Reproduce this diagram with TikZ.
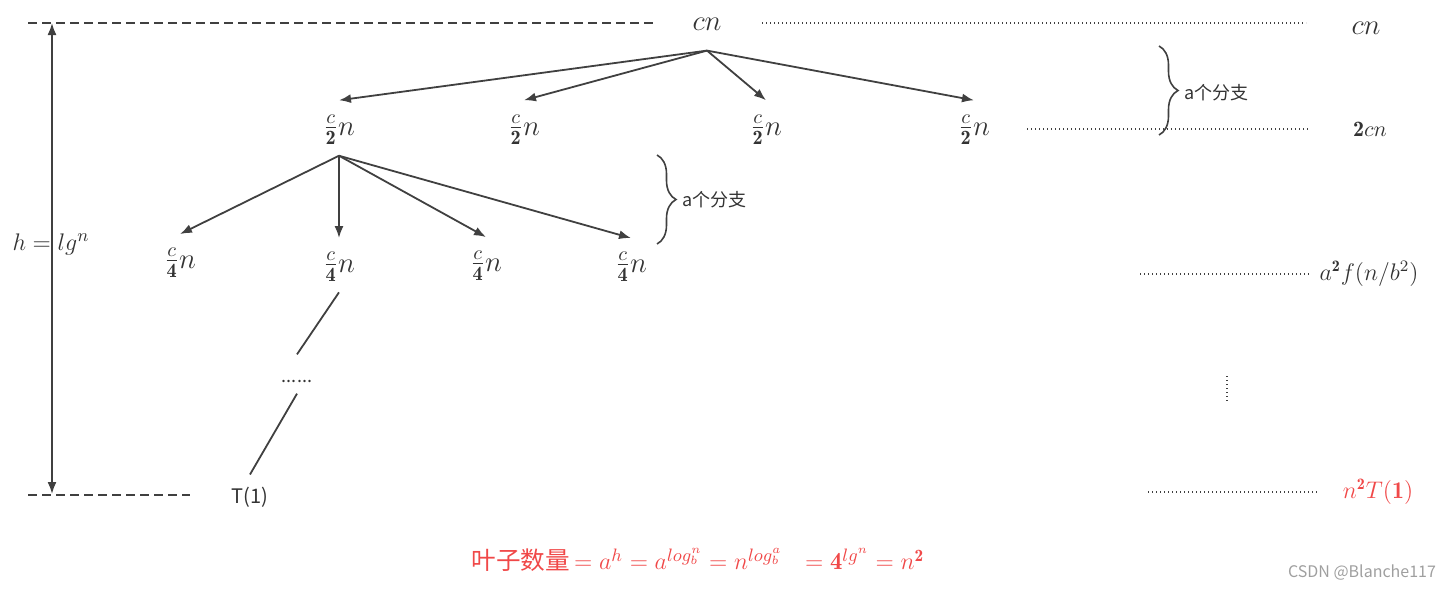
\documentclass[tikz,border=0pt]{standalone}
\usepackage{fontspec}
\usepackage{amsmath}
\usetikzlibrary{arrows.meta,decorations.pathreplacing}
\newfontfamily\cjk{Noto Sans CJK SC}
\definecolor{linegray}{HTML}{404040}
\definecolor{textgray}{HTML}{333333}
\definecolor{leafred}{HTML}{F04848}

\begin{document}
\begin{tikzpicture}[x=0.5pt,y=-0.5pt,
  every node/.style={inner sep=0pt,text=textgray},
  edge/.style={linegray,line width=0.9pt,-{Latex[length=6pt,width=4.5pt]}},
  stem/.style={linegray,line width=0.9pt},
  guide/.style={linegray,line width=0.9pt,dash pattern=on 4.5pt off 2.5pt},
  level/.style={linegray,line width=0.7pt,dash pattern=on 0.7pt off 1.3pt},
  brc/.style={linegray,line width=0.8pt,decorate,decoration={brace,amplitude=9.5pt}},
  big/.style={font=\fontsize{14.5}{16}\selectfont},
  mid/.style={font=\fontsize{12}{14}\selectfont},
  small/.style={font=\cjk\fontsize{9}{11}\selectfont}]
\useasboundingbox (0,0) rectangle (1451,589);

% root and the two levels
\node[big] (cn) at (707,24) {$cn$};
\node[big] (a1) at (339,130) {$\tfrac{c}{\mathbf{2}}n$};
\node[big] (a2) at (524,130) {$\tfrac{c}{\mathbf{2}}n$};
\node[big] (a3) at (766,130) {$\tfrac{c}{\mathbf{2}}n$};
\node[big] (a4) at (974,130) {$\tfrac{c}{\mathbf{2}}n$};
\node[big] (b1) at (180,263) {$\tfrac{c}{\mathbf{4}}n$};
\node[big] (b2) at (339,267) {$\tfrac{c}{\mathbf{4}}n$};
\node[big] (b3) at (486,266) {$\tfrac{c}{\mathbf{4}}n$};
\node[big] (b4) at (631,267) {$\tfrac{c}{\mathbf{4}}n$};
\node[font=\cjk\fontsize{9}{11}\selectfont] (dots) at (297,381) {......};
\node[font=\cjk\fontsize{10}{12}\selectfont] (t1) at (250,497) {T(1)};

\foreach \k in {a1,a2,a3,a4}
  \draw[edge] ([yshift=-10pt]cn.south) -- ([yshift=7.2pt]\k.north);
\foreach \k in {b1,b2,b3,b4}
  \draw[edge] ([yshift=-5.2pt]a1.south) -- ([yshift=6.8pt]\k.north);
\draw[stem] ([yshift=-5pt]b2.south) -- ([yshift=12.5pt]dots.north);
\draw[stem] ([yshift=-5.5pt]dots.south) -- ([yshift=6pt]t1.north);

% braces
\draw[brc] (1159,46) -- (1159,135);
\node[small,anchor=west] (br1) at (1184,93) {a个分支};
\draw[brc] (657,155) -- (657,244);
\node[small,anchor=west] (br2) at (682,200) {a个分支};

% height
\coordinate (htop) at (52,23);
\coordinate (hbot) at (52,494);
\coordinate (gtopl) at (28,23);
\coordinate (gtopr) at (655,23);
\coordinate (gbotl) at (28,495);
\coordinate (gbotr) at (190,495);
\draw[guide] (gtopl) -- (gtopr);
\draw[guide] (gbotl) -- (gbotr);
\draw[stem,{Latex[length=6pt,width=4.5pt]}-{Latex[length=6pt,width=4.5pt]}] (hbot) -- (htop);
\node[font=\fontsize{13}{15}\selectfont] (h) at (51,244) {$h=lg^n$};

% cost of each level
\node[big] (rcn) at (1366,28) {$cn$};
\node[font=\fontsize{11}{13}\selectfont] (r2cn) at (1370,129) {$\mathbf{2}cn$};
\node[mid] (raf) at (1369,274) {$a^{\mathbf{2}}f(n/b^2)$};
\node[mid,text=leafred] (rleaf) at (1378,492) {$n^{\mathbf{2}}T\mathbf{(1)}$};
\coordinate (l0s) at (762,23);   \coordinate (l0e) at (1306,23);
\coordinate (l1s) at (1027,129); \coordinate (l1e) at (1310,129);
\coordinate (l2s) at (1140,274); \coordinate (l2e) at (1310,274);
\coordinate (l3s) at (1148,492); \coordinate (l3e) at (1318,492);
\coordinate (vs) at (1227,376);  \coordinate (ve) at (1227,403);
\draw[level] (l0s) -- (l0e);
\draw[level] (l1s) -- (l1e);
\draw[level] (l2s) -- (l2e);
\draw[level] (l3s) -- (l3e);
\draw[level] (vs) -- (ve);

% leaves
\node[text=leafred,font=\fontsize{12.3}{14}\selectfont] (leaves) at (698,560)
  {{\cjk 叶子数量}$\,=a^h=a^{log_b^n}=n^{log_b^a}\ \ =\mathbf{4}^{lg^n}=n^{\mathbf{2}}$};
\node[text=gray!75,font=\cjk\fontsize{8}{10}\selectfont] (mark) at (1362,573) {CSDN @Blanche117};
\end{tikzpicture}
\end{document}
